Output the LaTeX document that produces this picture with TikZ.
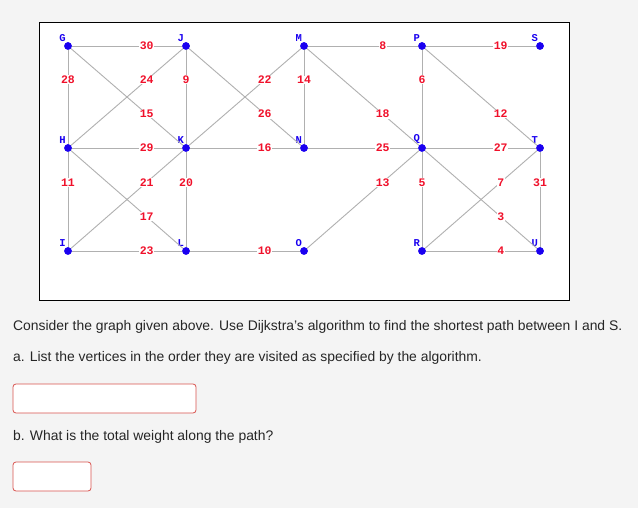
\documentclass[tikz,border=0pt]{standalone}
\usepackage{fontspec}
\setmainfont{Liberation Sans}
\newfontfamily\monof{Liberation Mono}
\definecolor{bgc}{HTML}{F4F4F4}
\definecolor{nblue}{HTML}{1A00F0}
\definecolor{lred}{HTML}{F0102A}
\definecolor{edgec}{HTML}{B0B0B0}
\definecolor{boxred}{HTML}{D9534F}
\begin{document}
\begin{tikzpicture}[x=1pt,y=-1pt,
  vtx/.style={circle,fill=nblue,inner sep=0pt,minimum size=7.5pt},
  vlab/.style={text=nblue,font=\monof\bfseries\fontsize{10.5}{10.5}\selectfont,inner sep=0pt},
  edg/.style={draw=edgec,line width=0.9pt},
  wl/.style={text=lred,font=\monof\bfseries\fontsize{11.5}{11.5}\selectfont,fill=white,inner sep=0.6pt},
  qtext/.style={anchor=west,font=\fontsize{13.9}{16}\selectfont,text=black!85,inner sep=0pt},
  ansbox/.style={draw=boxred,fill=white,rounded corners=3pt,line width=0.8pt}]
\useasboundingbox (0,0) rectangle (638,508);
\fill[bgc] (0,0) rectangle (638,508);
\draw[fill=white,line width=0.8pt] (39,22) rectangle (569,300);
\foreach \n/\x/\y in {G/68/46,J/186/46,M/304/46,P/422/46,S/540/46,
  H/68/148,K/186/148,N/304/148,Q/422/148,T/540/148,
  I/68/251,L/186/251,O/304/251,R/422/251,U/540/251}{
  \node[vtx] (\n) at (\x,\y) {};
  \node[vlab,anchor=south east] (lab\n) at (\x-2,\y-4.5) {\n};
}
\foreach \a/\b/\w/\p in {G/J/30/0.667,G/H/28/0.333,G/K/15/0.667,H/J/24/0.667,J/K/9/0.333,
  J/N/26/0.667,K/M/22/0.667,M/N/14/0.333,H/K/29/0.667,K/N/16/0.667,H/I/11/0.333,
  H/L/17/0.667,I/K/21/0.667,K/L/20/0.333,I/L/23/0.667,L/O/10/0.667,M/P/8/0.667,
  M/Q/18/0.667,P/Q/6/0.333,P/S/19/0.667,P/T/12/0.667,N/Q/25/0.667,Q/T/27/0.667,
  O/Q/13/0.667,Q/R/5/0.333,Q/U/3/0.667,R/T/7/0.667,T/U/31/0.333,R/U/4/0.667}{
  \draw[edg] (\a) -- (\b);
}
\foreach \a/\b/\w/\p in {G/J/30/0.667,G/H/28/0.333,G/K/15/0.667,H/J/24/0.667,J/K/9/0.333,
  J/N/26/0.667,K/M/22/0.667,M/N/14/0.333,H/K/29/0.667,K/N/16/0.667,H/I/11/0.333,
  H/L/17/0.667,I/K/21/0.667,K/L/20/0.333,I/L/23/0.667,L/O/10/0.667,M/P/8/0.667,
  M/Q/18/0.667,P/Q/6/0.333,P/S/19/0.667,P/T/12/0.667,N/Q/25/0.667,Q/T/27/0.667,
  O/Q/13/0.667,Q/R/5/0.333,Q/U/3/0.667,R/T/7/0.667,T/U/31/0.333,R/U/4/0.667}{
  \path (\a.center) -- node[wl,pos=\p] (w\a\b) {\w} (\b.center);
}
\foreach \n/\x/\y in {G/68/46,J/186/46,M/304/46,P/422/46,S/540/46,
  H/68/148,K/186/148,N/304/148,Q/422/148,T/540/148,
  I/68/251,L/186/251,O/304/251,R/422/251,U/540/251}{
  \node[vtx] at (\x,\y) {};
}
\node[qtext] (q1) at (13,327) {Consider the graph given above. Use Dijkstra's algorithm to find the shortest path between I and S.};
\node[qtext] (q2) at (13,358) {a. List the vertices in the order they are visited as specified by the algorithm.};
\draw[ansbox] (13,384) rectangle (196,413);
\node[qtext] (q3) at (13,437) {b. What is the total weight along the path?};
\draw[ansbox] (13,462) rectangle (91,491);
\end{tikzpicture}
\end{document}
